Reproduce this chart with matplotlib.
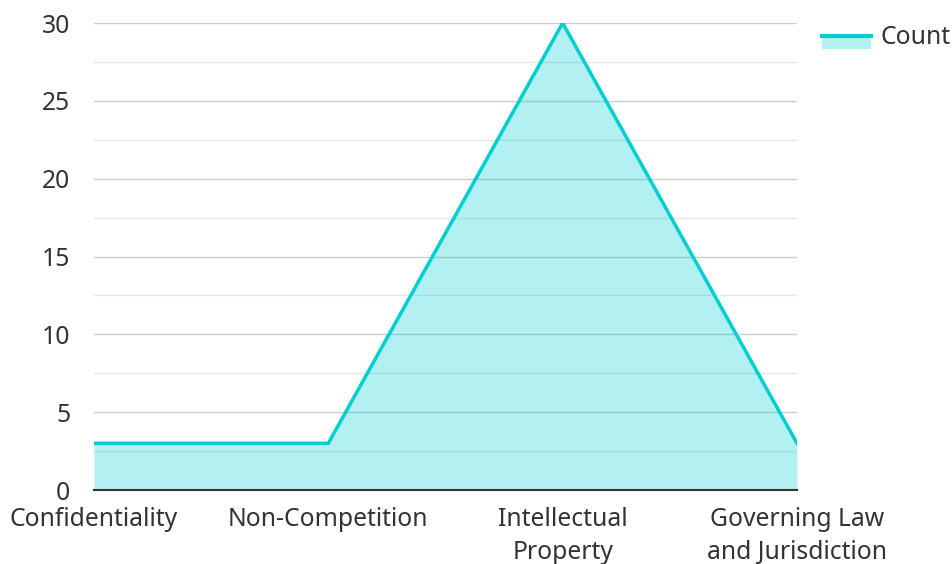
import matplotlib
matplotlib.use("Agg")
import matplotlib.pyplot as plt
from matplotlib.patches import Rectangle
from matplotlib.lines import Line2D
from matplotlib.legend_handler import HandlerBase

plt.rcParams['font.family'] = ['Noto Sans', 'DejaVu Sans']

categories = ['Confidentiality', 'Non-Competition', 'Intellectual\nProperty', 'Governing Law\nand Jurisdiction']
counts = [3, 3, 30, 3]

line_color = '#00CED1'
text_color = '#333333'
fs = 17.8


class AreaHandler(HandlerBase):
    # legend swatch: light fill with the line on top, sitting a bit low
    def create_artists(self, legend, orig_handle, xdescent, ydescent, width, height, fontsize, trans):
        y0 = -ydescent - 0.34 * height
        rect = Rectangle((-xdescent, y0), width, height * 0.68,
                         facecolor=line_color, alpha=0.3, edgecolor='none', transform=trans)
        ln = Line2D([-xdescent, -xdescent + width], [y0 + height * 0.81] * 2,
                    color=line_color, lw=3, transform=trans)
        return [rect, ln]


fig = plt.figure(figsize=(9.53, 5.64), dpi=100)
ax = fig.add_axes([0.0986, 0.1312, 0.7377, 0.828])

x = range(len(categories))
ax.fill_between(x, counts, 0, color=line_color, alpha=0.3, linewidth=0, zorder=2)
ax.plot(x, counts, color=line_color, lw=2.5, zorder=3, solid_joinstyle='miter')

ax.set_xlim(0, len(categories) - 1)
ax.set_ylim(0, 30)
ax.set_yticks(range(0, 31, 5))
ax.set_yticks([2.5 + 5 * i for i in range(6)], minor=True)
ax.grid(axis='y', which='major', color='#cccccc', lw=1, zorder=1)
ax.grid(axis='y', which='minor', color='#e6e6e6', lw=1, zorder=1)
ax.set_axisbelow(True)

ax.set_xticks(list(x))
ax.set_xticklabels(categories, fontsize=fs, color=text_color, linespacing=1.45)
ax.tick_params(axis='y', labelsize=fs, labelcolor=text_color, length=0, pad=17)
ax.tick_params(axis='x', length=0, pad=12)
ax.tick_params(which='minor', length=0)

for side in ['top', 'right', 'left']:
    ax.spines[side].set_visible(False)
ax.spines['bottom'].set_color(text_color)
ax.spines['bottom'].set_linewidth(1.5)
ax.spines['bottom'].set_zorder(4)

handle = Rectangle((0, 0), 1, 1)
leg = fig.legend([handle], ['Count'], handler_map={Rectangle: AreaHandler()},
                 loc='upper left', bbox_to_anchor=(0.8625, 0.955), frameon=False,
                 fontsize=fs, handlelength=2.0, handleheight=0.6, handletextpad=0.35,
                 borderaxespad=0, borderpad=0)
for t in leg.get_texts():
    t.set_color(text_color)

fig.savefig('out.png', dpi=100)
